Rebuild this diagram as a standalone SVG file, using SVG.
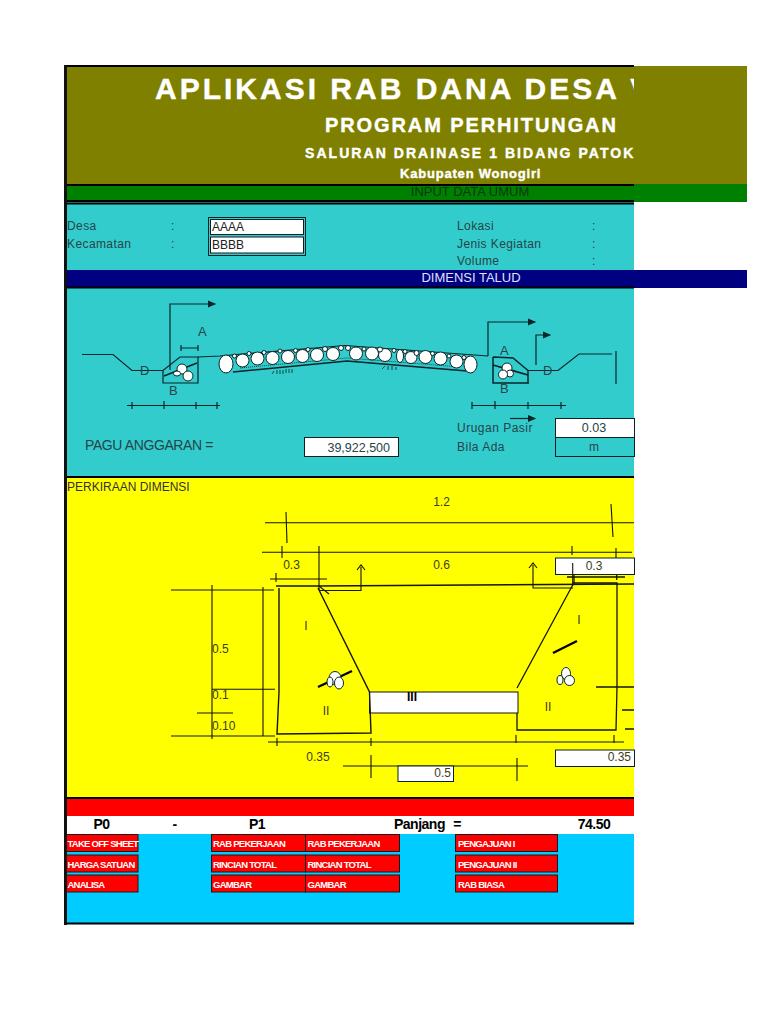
<svg xmlns="http://www.w3.org/2000/svg" width="768" height="1024" viewBox="0 0 768 1024">
<style>
text{font-family:"Liberation Sans",Arial,sans-serif;fill:#24444a;font-size:12px}
.t{letter-spacing:.4px}
.d{fill:#3d3d20}
.c{text-anchor:middle}
.h{fill:#fff;font-weight:bold;stroke:#fff;stroke-width:.4}
.b{fill:#fff;font-weight:bold;font-size:9.5px;letter-spacing:-.75px}
.k{fill:#000;font-weight:bold;font-size:14px;letter-spacing:-.5px}
.l{fill:none;stroke:#0b2528;stroke-width:1.2}
.y{fill:none;stroke:#15150a;stroke-width:1.1}
.w{fill:#fff;stroke:#0a2024;stroke-width:1}
.r{fill:#fff;stroke:#0b2528;stroke-width:1}
.btn{fill:#f00;stroke:#1a1a1a;stroke-width:1}
</style>
<defs>
<clipPath id="clip"><rect x="60" y="60" width="574" height="130"/></clipPath>
<marker id="ah" markerWidth="8" markerHeight="8" refX="6" refY="3" orient="auto"><path d="M0 0L7 3L0 6z" fill="#0b2528"/></marker>
</defs>
<rect width="768" height="1024" fill="#fff"/>
<g id="bands">
<rect x="66" y="66" width="681" height="118" fill="#808000"/>
<rect x="66" y="184" width="681" height="18" fill="#008000"/>
<rect x="66" y="202" width="568" height="68" fill="#33cccc"/>
<rect x="66" y="270" width="681" height="18" fill="#000080"/>
<rect x="66" y="288" width="568" height="188" fill="#33cccc"/>
<rect x="66" y="478" width="568" height="320" fill="#ff0"/>
<rect x="66" y="799" width="568" height="17" fill="#f00"/>
<rect x="66" y="816" width="568" height="18" fill="#fff"/>
<rect x="66" y="834" width="568" height="89" fill="#0cf"/>
<path d="M64 66H634M66 185H634M66 201H634M66 203.500H634M66 287.500H634M66 477H634M66 798H634M64 923.500H634" stroke="#000" stroke-width="2" fill="none"/>
<path d="M65.500 65V925" stroke="#111" stroke-width="3" fill="none"/>
</g>
<g id="title" clip-path="url(#clip)">
<text x="155" y="99" class="h" style="font-size:30px;letter-spacing:3px">APLIKASI RAB DANA DESA V</text>
<text x="325" y="132" class="h" style="font-size:20px;letter-spacing:1.9px">PROGRAM PERHITUNGAN</text>
<text x="305" y="157.500" class="h" style="font-size:14px;letter-spacing:2.05px">SALURAN DRAINASE 1 BIDANG PATOK</text>
<text x="400" y="178" class="h" style="font-size:13px;letter-spacing:.8px">Kabupaten Wonogiri</text>
</g>
<g id="headers">
<text x="470" y="196" class="c" style="font-size:13px;fill:#0a3a10">INPUT DATA UMUM</text>
<text x="471" y="282" class="c" style="font-size:13px;fill:#dfe0ff">DIMENSI TALUD</text>
</g>
<g id="form">
<text x="67" y="230" class="t">Desa</text><text x="171" y="230">:</text>
<text x="67" y="248" class="t">Kecamatan</text><text x="171" y="248">:</text>
<rect x="208.500" y="217.500" width="97" height="38" fill="#33cccc" stroke="#0a2024"/>
<rect x="210.500" y="219.500" width="93" height="15" class="w"/>
<rect x="210.500" y="237" width="93" height="16" class="w"/>
<text x="212" y="231" style="fill:#222">AAAA</text>
<text x="212" y="249" style="fill:#222">BBBB</text>
<text x="457" y="230" class="t">Lokasi</text><text x="592" y="230">:</text>
<text x="457" y="248" class="t">Jenis Kegiatan</text><text x="592" y="248">:</text>
<text x="457" y="265" class="t">Volume</text><text x="592" y="265">:</text>
</g>
<g id="road">
<path class="l" d="M198 357L220 356L345 345.500L488 356"/>
<path class="l" style="stroke-width:1.600" d="M233 372L347 361L467 371"/>
<path class="l" style="stroke-width:.8" stroke-dasharray="1 1" d="M240 368L347 358L460 367"/>
<path class="l" style="stroke-width:.8" d="M274 371l-2 3M277 370v4M280 370v4M283 370v4M286 369v4M289 369v4M292 369v4M385 366l-3 3M388 366v4M392 366v4M396 367v3"/>
<ellipse class="r" cx="226" cy="364" rx="7" ry="9"/>
<circle class="r" cx="242.500" cy="360.500" r="6.500"/><circle class="r" cx="257.500" cy="358.500" r="6.500"/><circle class="r" cx="272.500" cy="358" r="6.500"/><circle class="r" cx="288" cy="357" r="6.500"/><circle class="r" cx="302.500" cy="356" r="6.500"/><circle class="r" cx="317" cy="355" r="6.500"/><circle class="r" cx="333" cy="354" r="6.500"/><circle class="r" cx="356" cy="353.500" r="6.500"/>
<circle class="r" cx="372" cy="353.500" r="6.500"/><circle class="r" cx="385" cy="355" r="6.500"/><ellipse class="r" cx="400" cy="356" rx="3.500" ry="6.500"/><circle class="r" cx="411" cy="357.500" r="6"/><circle class="r" cx="425.500" cy="357" r="6.500"/><circle class="r" cx="440.500" cy="358.500" r="6.500"/><circle class="r" cx="456.500" cy="361.500" r="6.500"/>
<ellipse class="r" cx="470.500" cy="364.500" rx="6.500" ry="8.500"/>
<g>
<circle class="r" cx="234.500" cy="356" r="2"/><circle class="r" cx="249" cy="353.500" r="2"/><circle class="r" cx="264" cy="352.500" r="2"/><circle class="r" cx="280" cy="351" r="2"/><circle class="r" cx="295.500" cy="350.500" r="2"/><circle class="r" cx="308" cy="349.500" r="2"/><circle class="r" cx="325" cy="349" r="2.500"/><circle class="r" cx="341" cy="348" r="2.500"/><circle class="r" cx="348" cy="348" r="2.500"/>
<circle class="r" cx="364" cy="349" r="2"/><circle class="r" cx="380" cy="349.500" r="2.500"/><circle class="r" cx="394" cy="350.500" r="2"/><circle class="r" cx="405" cy="351.500" r="2"/><circle class="r" cx="416.500" cy="353" r="2.500"/><circle class="r" cx="432.500" cy="353.500" r="2"/><circle class="r" cx="449" cy="356" r="2"/><circle class="r" cx="464" cy="357.500" r="2"/>
</g>
</g>
<g id="drain-left">
<path class="l" d="M82 354.500H113L132 370.500H163L180 357H198V383H163V370.500"/>
<path class="l" d="M170 370V304H215" marker-end="url(#ah)"/>
<path class="l" d="M181 345v6M181 348H198M198 345v6"/>
<path class="l" d="M127 405.500H220M132 402v7M164 401v8M196 402v7M217 402v7"/>
<path class="l" style="stroke-width:1.500" d="M164 376L197 363"/>
<circle class="r" cx="182" cy="369" r="5"/><circle class="r" cx="188" cy="376" r="5"/><ellipse class="r" cx="177" cy="373.500" rx="3.500" ry="2.500"/>
<text x="198" y="336" style="font-size:13px">A</text>
<text x="169" y="395" style="font-size:13px">B</text>
<text x="140" y="375" style="font-size:13px">D</text>
</g>
<g id="drain-right">
<path class="l" d="M488 356V322H535" marker-end="url(#ah)"/>
<path class="l" d="M536 365V335H550" marker-end="url(#ah)"/>
<path class="l" style="stroke-width:1.500" d="M493 357V383H529M493 357L513 358L528 370.500V383"/>
<path class="l" d="M528 370.500H558L579 354H612M616 351V384"/>
<path class="l" style="stroke-width:1.800" d="M493 365L528 375"/>
<circle class="r" cx="507" cy="368" r="5"/><circle class="r" cx="510" cy="373.500" r="3.500"/><circle class="r" cx="503" cy="374.500" r="4.500"/>
<path class="l" d="M472 405.500H566M472 402v7M495 401v8M528 402v7M561 402v7"/>
<path class="l" d="M510 418.500H535" marker-end="url(#ah)"/>
<text x="500" y="355" style="font-size:13px">A</text>
<text x="500" y="393" style="font-size:13px">B</text>
<text x="543" y="375" style="font-size:13px">D</text>
</g>
<g id="inputs">
<text x="85" y="450" style="font-size:14px;letter-spacing:-.4px">PAGU ANGGARAN =</text>
<rect x="304.500" y="437.500" width="94" height="19" class="w"/>
<text x="390" y="451.500" text-anchor="end" style="font-size:12.500px">39,922,500</text>
<text x="457" y="431.500" style="letter-spacing:.5px">Urugan Pasir</text>
<text x="457" y="451" style="letter-spacing:.5px">Bila Ada</text>
<rect x="555.500" y="418.500" width="79" height="19" class="w"/>
<rect x="555.500" y="437.500" width="79" height="19" fill="#33cccc" stroke="#0a2024"/>
<text x="594" y="431.500" class="c" style="font-size:12.500px">0.03</text>
<text x="594" y="451" class="c">m</text>
</g>
<g id="section">
<text x="67" y="491" style="font-size:12px;fill:#333">PERKIRAAN DIMENSI</text>
<rect x="369.500" y="692" width="148.500" height="21" fill="#fff" stroke="#15150a"/>
<path class="y" d="M265 522.700H634M286 512L287 543M611 504L613 537"/>
<path class="y" d="M262 552.300H632M282 546V558M319 546V558M572 546V555M616 548V558"/>
<path class="y" d="M270 579H327M276 573V582M319 558V590"/>
<path class="y" style="stroke-width:1.500" d="M276 586H318L634 584"/>
<path class="y" style="stroke-width:1.400" d="M279 588V692L277 734L371 733L369.500 692L318 588"/>
<path class="y" d="M319 590.500H361V567M319 586L329 594"/>
<path class="y" d="M357 570L361 565L365 570"/>
<path class="y" d="M171 590H274M212 585V739M263 587V736M212 689.300H275M197 713H233M171 736H275"/>
<path class="y" d="M268 742H624M277 738V746M371 738V746M516 735V743M614 735V743"/>
<path class="y" d="M343 766H528M371 755V778M517 758V781"/>
<path class="y" style="stroke-width:1.300" d="M572.700 585L517 688M517 713V730H616L617 687V583H573M567 577H625M574 570V584M616.700 570V580M596 687H634M622 710H634M625 729H634"/>
<path class="y" d="M573 588H533V565M529 568L533 563L537 568"/>
<path d="M318 687L352 671M553 653L577 641" stroke="#000" stroke-width="2.400" fill="none"/>
<ellipse class="r" cx="335" cy="678" rx="6" ry="6.500"/><ellipse class="r" cx="330" cy="682" rx="3" ry="5"/><ellipse class="r" cx="339" cy="683" rx="4.500" ry="6"/>
<ellipse class="r" cx="566" cy="673.500" rx="4.500" ry="6"/><ellipse class="r" cx="560" cy="680" rx="3" ry="4.500"/><circle class="r" cx="569.500" cy="680.500" r="5"/>
<rect x="555.500" y="558" width="79" height="16.500" class="w"/>
<rect x="555.500" y="750" width="79" height="16.500" class="w"/>
<rect x="398" y="766" width="55.500" height="15.500" class="w"/>
<path class="y" d="M572.700 563V586"/>
<text x="441.500" y="506" class="c d">1.2</text>
<text x="291.500" y="568.500" class="c d">0.3</text>
<text x="441.500" y="568.500" class="c d">0.6</text>
<text x="594" y="570" class="c d">0.3</text>
<text x="212" y="652.500" class="d">0.5</text>
<text x="212" y="698.500" class="d">0.1</text>
<text x="212" y="730" class="d">0.10</text>
<text x="318" y="760.500" class="c d">0.35</text>
<text x="631" y="760.500" text-anchor="end" class="d">0.35</text>
<text x="451" y="776.500" text-anchor="end" class="d">0.5</text>
<text x="306" y="630" class="c d">I</text>
<text x="326" y="715" class="c d">II</text>
<text x="579" y="624" class="c d">I</text>
<text x="548" y="711" class="c d">II</text>
<text x="412" y="701" class="c" style="fill:#000;font-weight:bold">III</text>
</g>
<g id="length">
<text x="101.500" y="829" class="c k">P0</text>
<text x="174.500" y="829" class="c k">-</text>
<text x="257" y="829" class="c k">P1</text>
<text x="394" y="829" class="k">Panjang</text>
<text x="457" y="829" class="c k">=</text>
<text x="594" y="829" class="c k">74.50</text>
</g>
<g id="buttons">
<rect class="btn" x="66.500" y="834.500" width="71.500" height="17"/>
<rect class="btn" x="66.500" y="855" width="71.500" height="17"/>
<rect class="btn" x="66.500" y="875" width="71.500" height="17"/>
<rect class="btn" x="211.500" y="834.500" width="94" height="17"/>
<rect class="btn" x="211.500" y="855" width="94" height="17"/>
<rect class="btn" x="211.500" y="875" width="94" height="17"/>
<rect class="btn" x="305.500" y="834.500" width="94" height="17"/>
<rect class="btn" x="305.500" y="855" width="94" height="17"/>
<rect class="btn" x="305.500" y="875" width="94" height="17"/>
<rect class="btn" x="455.500" y="834.500" width="102" height="17"/>
<rect class="btn" x="455.500" y="855" width="102" height="17"/>
<rect class="btn" x="455.500" y="875" width="102" height="17"/>
<text x="67.500" y="847" class="b">TAKE OFF SHEET</text>
<text x="67.500" y="867.500" class="b">HARGA SATUAN</text>
<text x="67.500" y="887.500" class="b">ANALISA</text>
<text x="213" y="847" class="b">RAB PEKERJAAN</text>
<text x="213" y="867.500" class="b">RINCIAN TOTAL</text>
<text x="213" y="887.500" class="b">GAMBAR</text>
<text x="307.500" y="847" class="b">RAB PEKERJAAN</text>
<text x="307.500" y="867.500" class="b">RINCIAN TOTAL</text>
<text x="307.500" y="887.500" class="b">GAMBAR</text>
<text x="458" y="847" class="b">PENGAJUAN I</text>
<text x="458" y="867.500" class="b">PENGAJUAN II</text>
<text x="458" y="887.500" class="b">RAB BIASA</text>
</g>
</svg>
